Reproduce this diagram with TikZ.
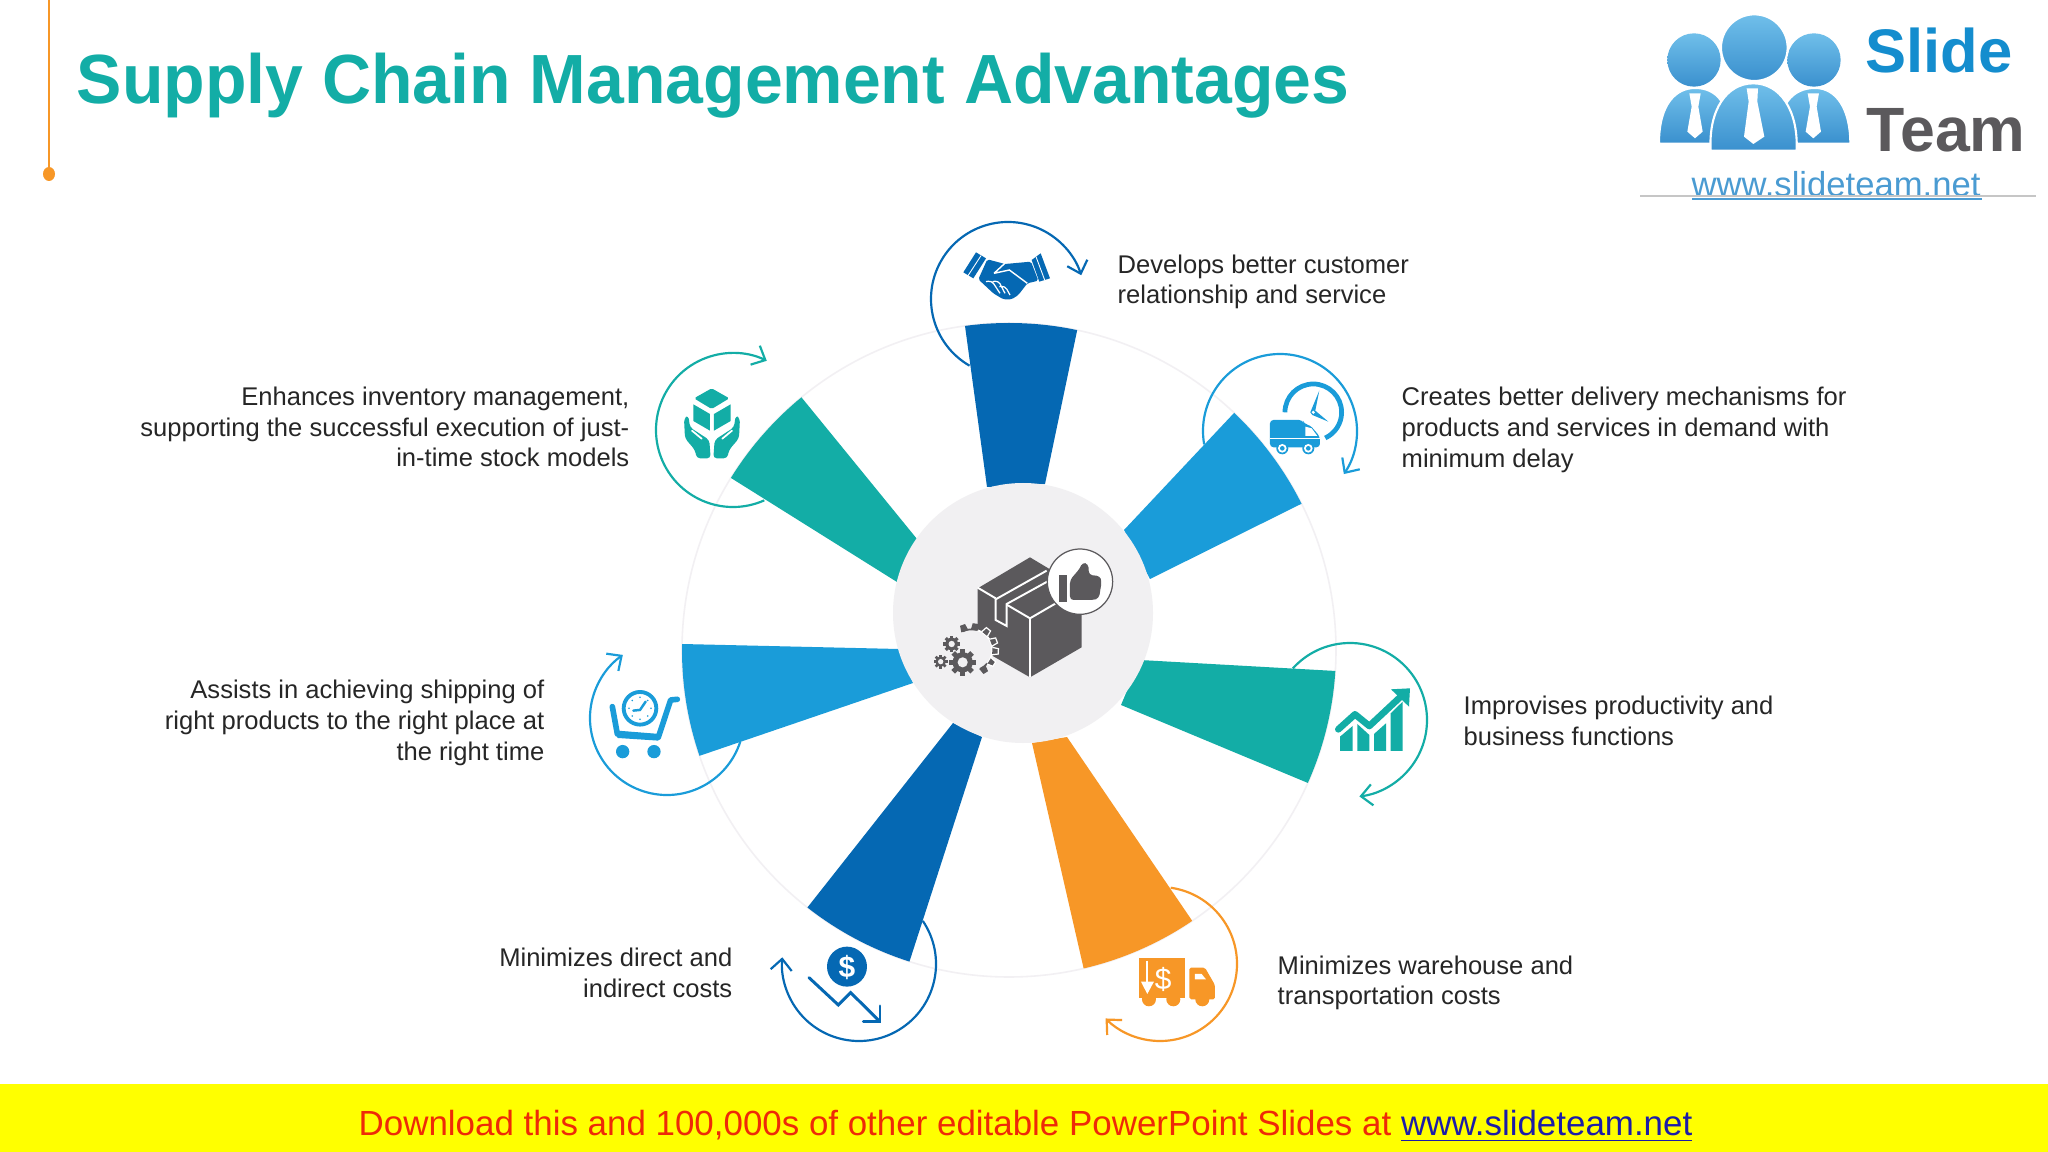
\documentclass[tikz,border=0pt]{standalone}
\usepackage{fontspec}
\setmainfont{Liberation Sans}
\newfontfamily\TitleFont[FakeStretch=0.976]{Liberation Sans}
\usepackage{xcolor}
\usetikzlibrary{calc}
\usetikzlibrary{arrows.meta}
\definecolor{DarkBlue}{HTML}{0568B3}
\definecolor{SkyBlue}{HTML}{1A9CD9}
\definecolor{Teal}{HTML}{13ADA6}
\definecolor{Amber}{HTML}{F79727}
\definecolor{HubGray}{HTML}{F1F0F2}
\definecolor{RingGray}{HTML}{F2F0F3}
\definecolor{BoxGray}{HTML}{5B595C}
\definecolor{BodyText}{HTML}{262626}
\definecolor{BarYellow}{RGB}{255,255,0}
\definecolor{BarRed}{HTML}{EE2A08}
\definecolor{BarLink}{HTML}{1C1CA8}
\definecolor{LogoTop}{HTML}{70BFEA}
\definecolor{LogoBot}{HTML}{3A90CE}
\definecolor{LogoLink}{HTML}{4A9BD2}
\newcommand{\Blade}[5]{\fill[#1] (#2) -- ($(#2)!1.3!(#3)$) -- ($(#5)!1.3!(#4)$) -- (#5) -- cycle;}
\newcommand{\Loop}[5]{\draw[#1,line width=0.62pt,-{Straight Barb[length=3.2pt,width=6pt]}] (#2) ++(#3:77) arc[start angle=#3,end angle=#4,radius=77];}
\newcommand{\GearIcon}[4]{%
  \fill[BoxGray] (#1,#2) circle ({#3*.76});
  \foreach \a in {0,45,...,315} {\fill[BoxGray,shift={(#1,#2)},rotate=\a] ({-.19*#3},0) rectangle ({.19*#3},#3);}
  \fill[#4] (#1,#2) circle ({#3*.38});}
\begin{document}
\begin{tikzpicture}[x=0.01cm,y=0.01cm,yscale=-1]
  \tikzset{BenefitL/.style={anchor=west,align=left,inner sep=0pt,text=BodyText,font=\fontsize{7.27}{8.73}\selectfont}};
  \tikzset{BenefitR/.style={anchor=east,align=right,inner sep=0pt,text=BodyText,font=\fontsize{7.27}{8.73}\selectfont}};
  \useasboundingbox (0,0) rectangle (2048,1152);
  \fill[white] (0,0) rectangle (2048,1152);

  \draw[Amber,line width=0.45pt] (49,0) -- (49,170);
  \fill[Amber] (49,174) ellipse (6 and 7);
  \node[anchor=base west,inner sep=0pt,text=Teal,font=\fontsize{19.8}{24}\selectfont\TitleFont\bfseries] (title) at (76,104) {Supply Chain Management Advantages};

  \draw[RingGray,line width=0.45pt] (1009,650) circle (327);
  \Loop{DarkBlue}{1008,299}{120}{342}{}
  \Loop{SkyBlue}{1280,431}{170}{394}{}
  \Loop{Teal}{733,430}{66}{296}{}
  \Loop{SkyBlue}{667,718}{18}{235}{}
  \Loop{DarkBlue}{859,964}{-34}{185}{}
  \Loop{Amber}{1160,964}{-82}{135}{}
  \Loop{Teal}{1350,720}{-138}{83}{}

  \begin{scope}
    \clip (1009,650) circle (327);
    \Blade{DarkBlue}{987,487}{965,326}{1077,331}{1045,484}
    \Blade{SkyBlue}{1124,530}{1234,413}{1301,504}{1150,579}
    \Blade{Teal}{1140,660}{1336,671}{1308,783}{1121,705}
    \Blade{Amber}{1067,737}{1193,922}{1084,970}{1032,743}
    \Blade{DarkBlue}{982,737}{909,963}{807,908}{953,723}
    \Blade{SkyBlue}{913,683}{699,756}{682,644}{899,649}
    \Blade{Teal}{897,582}{731,478}{802,398}{917,539}
  \end{scope}
  \fill[HubGray] (1023,613) circle (130);

  \begin{scope}[shift={(925,540)},scale=0.3333]
    \fill[BoxGray] (315,52) -- (470,145) -- (470,322) -- (315,412) -- (158,322) -- (158,145) -- cycle;
    \draw[white,line width=0.55pt] (158,143) -- (212,175) (245,194) -- (315,235) -- (470,145) (315,235) -- (315,412);
    \draw[white,line width=0.55pt] (365,92) -- (212,178) -- (212,240) -- (245,258) -- (245,192) -- (372,122);
    \fill[HubGray] (140,330) circle (62);
    \draw[BoxGray,line width=0.5pt] (140,330) ++(245:62) arc[start angle=245,end angle=285,radius=62];
    \draw[white,line width=0.5pt] (140,330) ++(285:62) arc[start angle=285,end angle=400,radius=62];
    \draw[BoxGray,line width=0.5pt] (140,330) ++(400:62) arc[start angle=400,end angle=425,radius=62];
    \foreach \a in {250,278,58} {\fill[BoxGray,shift={(140,330)},rotate=\a] (60,-11) -- (80,-8) -- (80,8) -- (60,11) -- cycle;}
    \foreach \a in {309,339,3,32} {\filldraw[fill=BoxGray,draw=white,line width=0.35pt,shift={(140,330)},rotate=\a] (62,-11) -- (80,-8) -- (80,8) -- (62,11);}
    \GearIcon{113}{367}{40}{HubGray}
    \GearIcon{80}{312}{25}{HubGray}
    \GearIcon{47}{365}{21}{HubGray}
    \filldraw[fill=white,draw=BoxGray,line width=0.35pt] (465,125) circle (98);
    \fill[BoxGray] (403,105) rectangle (425,187);
    \fill[BoxGray,rounded corners=1pt] (435,120) -- (465,85) -- (472,67) -- (490,72) -- (492,105) -- (525,108) -- (530,125) -- (522,175) -- (505,180) -- (435,180) -- cycle;
  \end{scope}

  \begin{scope}[shift={(950,240)},scale=0.3333]
    \fill[DarkBlue] (78,37) -- (108,55) -- (70,115) -- (40,97) -- cycle;
    \fill[DarkBlue] (272,40) -- (300,115) -- (268,125) -- (245,60) -- cycle;
    \fill[DarkBlue,rounded corners=0.5pt] (112,58) -- (165,72) -- (243,65) -- (265,122) -- (232,130) -- (205,165) -- (185,178) -- (160,178) -- (130,160) -- (85,118) -- cycle;
    \draw[white,line width=0.25pt] (93,47) -- (54,107) (258,50) -- (284,120);
    \draw[white,line width=0.4pt] (132,100) -- (170,65) (132,100) -- (178,90) -- (232,130);
    \draw[white,line width=0.35pt,rounded corners=1pt] (108,125) -- (125,122) -- (150,160) (128,125) -- (145,122) -- (165,160) (148,140) -- (165,138) -- (180,165);
  \end{scope}

  \begin{scope}[shift={(880,200)},scale=0.3333]
    \draw[SkyBlue,line width=1.35pt] (1300,637) ++(180:85) arc[start angle=180,end angle=425,radius=85];
    \fill[SkyBlue] (1318,572) -- (1306,632) -- (1345,665) -- (1297,645) -- (1291,637) -- cycle;
    \fill[white] (1300,637) circle (5);
    \fill[SkyBlue,rounded corners=1pt] (1170,660) -- (1268,660) -- (1272,672) -- (1290,675) -- (1320,710) -- (1320,742) -- (1170,742) -- cycle;
    \fill[white] (1276,680) -- (1295,685) -- (1312,708) -- (1276,708) -- cycle;
    \draw[white,line width=0.35pt] (1170,716) -- (1320,716);
    \foreach \wx in {1207,1285} {
      \fill[SkyBlue] (\wx,745) circle (18);
      \fill[white] (\wx,745) circle (13);
      \fill[SkyBlue] (\wx,745) circle (7);
    }
  \end{scope}

  \begin{scope}[shift={(600,340)},scale=0.3333]
    \fill[Teal,rounded corners=0.5pt] (335,145) -- (388,175) -- (335,207) -- (282,175) -- cycle;
    \fill[Teal] (280,193) -- (330,222) -- (330,272) -- (280,243) -- cycle;
    \fill[Teal] (342,222) -- (392,193) -- (392,243) -- (342,272) -- cycle;
    \fill[Teal,rounded corners=1pt] (252,235) -- (265,226) -- (270,262) -- (328,300) -- (332,355) -- (290,355) -- (285,330) -- (255,295) -- cycle;
    \fill[Teal,rounded corners=1pt] (420,235) -- (407,226) -- (402,262) -- (344,300) -- (340,355) -- (382,355) -- (387,330) -- (417,295) -- cycle;
    \draw[white,line width=0.5pt,line cap=round] (276,272) -- (305,296) (396,272) -- (367,296);
  \end{scope}

  \begin{scope}[shift={(600,340)},scale=0.3333]
    \draw[SkyBlue,line width=1.6pt,line join=round,line cap=round] (37,1100) -- (52,1182) -- (175,1192) -- (212,1080) -- (232,1078);
    \fill[SkyBlue] (52,1172) -- (178,1182) -- (175,1202) -- (52,1194) -- cycle;
    \fill[white] (120,1105) circle (60);
    \draw[SkyBlue,line width=1.1pt] (120,1105) circle (49);
    \foreach \a in {0,45,...,315} {\fill[SkyBlue] (120,1105) ++(\a:33) circle (2.6);}
    \draw[SkyBlue,line width=0.7pt,line cap=round] (137,1085) -- (120,1110) -- (100,1112);
    \fill[SkyBlue] (68,1235) circle (20);
    \fill[SkyBlue] (162,1235) circle (20);
  \end{scope}

  \begin{scope}[shift={(750,700)},scale=0.3333]
    \fill[DarkBlue] (291,800) circle (60);
    \node[inner sep=0pt,text=white,font=\fontsize{8.5}{10}\selectfont\bfseries] (usd) at (291,802) {\$};
    \draw[DarkBlue,line width=0.85pt,line cap=round,line join=miter] (177,833) -- (265,915) -- (302,878) -- (385,960);
    \draw[DarkBlue,line width=0.85pt,line cap=round] (390,918) -- (390,965) -- (340,965);
  \end{scope}

  \begin{scope}[shift={(750,700)},scale=0.3333]
    \fill[Amber] (1167,775) rectangle (1305,895);
    \foreach \wx in {1197,1270,1357} {\fill[Amber] (\wx,898) circle (21);}
    \fill[Amber,rounded corners=0.5pt] (1318,803) -- (1365,803) -- (1395,855) -- (1395,898) -- (1318,898) -- cycle;
    \fill[white] (1335,822) -- (1355,822) -- (1368,838) -- (1335,838) -- cycle;
    \draw[white,line width=0.5pt] (1192,782) -- (1192,850);
    \fill[white] (1173,845) -- (1212,845) -- (1192,882) -- cycle;
    \node[inner sep=0pt,text=white,font=\fontsize{8.5}{10}\selectfont] (usdb) at (1240,838) {\$};
  \end{scope}

  \begin{scope}[shift={(1260,620)},scale=0.3333]
    \fill[Teal] (240,350) -- (278,318) -- (278,393) -- (240,393) -- cycle;
    \fill[Teal] (292,312) -- (328,345) -- (328,393) -- (292,393) -- cycle;
    \fill[Teal] (342,342) -- (378,310) -- (378,393) -- (342,393) -- cycle;
    \fill[Teal] (392,280) -- (428,245) -- (428,393) -- (392,393) -- cycle;
    \draw[Teal,line width=1.9pt,line cap=round,line join=round] (235,328) -- (285,283) -- (328,318) -- (420,232);
    \fill[Teal] (393,208) -- (450,205) -- (447,260) -- cycle;
  \end{scope}

  \node[BenefitL] (a) at (1117,282) {Develops better customer\\relationship and service};
  \node[BenefitL] (b) at (1401,430) {Creates better delivery mechanisms for\\products and services in demand with\\minimum delay};
  \node[BenefitL] (c) at (1463,721) {Improvises productivity and\\business functions};
  \node[BenefitL] (d) at (1277,983) {Minimizes warehouse and\\transportation costs};
  \node[BenefitR] (e) at (733,973) {Minimizes direct and\\indirect costs};
  \node[BenefitR] (f) at (545,723) {Assists in achieving shipping of\\right products to the right place at\\the right time};
  \node[BenefitR] (g) at (630,427) {Enhances inventory management,\\supporting the successful execution of just-\\in-time stock models};

  \begin{scope}[shift={(1620,0)},scale=0.3333]
    \shade[top color=LogoTop,bottom color=LogoBot] (222,180) circle (80);
    \shade[top color=LogoTop,bottom color=LogoBot] (582,180) circle (80);
    \shade[top color=LogoTop,bottom color=LogoBot,draw=white,line width=0.4pt] (118,430) .. controls (118,310) and (170,265) .. (225,265) .. controls (290,265) and (330,310) .. (335,430) -- cycle;
    \shade[top color=LogoTop,bottom color=LogoBot,draw=white,line width=0.4pt] (470,430) .. controls (475,310) and (520,265) .. (585,265) .. controls (650,265) and (690,330) .. (690,430) -- cycle;
    \shade[top color=LogoTop,bottom color=LogoBot,draw=white,line width=0.6pt] (403,143) circle (100);
    \shade[top color=LogoTop,bottom color=LogoBot,draw=white,line width=0.6pt] (272,452) .. controls (265,330) and (320,250) .. (400,250) .. controls (480,250) and (535,330) .. (530,452) -- cycle;
    \foreach \tx in {225,580} {\fill[white,shift={(\tx,0)}] (-17,280) -- (17,280) -- (10,320) -- (23,395) -- (0,415) -- (-23,395) -- (-10,320) -- cycle;}
    \fill[white] (380,265) -- (414,265) -- (412,305) -- (433,410) -- (400,432) -- (372,410) -- (386,305) -- cycle;
  \end{scope}
  \node[anchor=base west,inner sep=0pt,text=SkyBlue!70!DarkBlue,font=\fontsize{17.5}{20}\selectfont\bfseries] (slide) at (1865,73) {Slide};
  \node[anchor=base west,inner sep=0pt,text=BoxGray,font=\fontsize{17.8}{20}\selectfont\bfseries] (team) at (1866,152) {Team};
  \node[anchor=base west,inner sep=0pt,text=LogoLink,font=\fontsize{9.85}{12}\selectfont] (site) at (1691,197) {www.slideteam.net};
  \draw[gray!45,line width=0.3pt] (1640,196) -- (2036,196);
  \draw[LogoLink,line width=0.5pt] (1692,199) -- (1982,199);

  \fill[BarYellow] (0,1084) rectangle (2048,1152);
  \node[anchor=base west,inner sep=0pt,font=\fontsize{9.93}{12}\selectfont] (promo) at (358,1135) {\textcolor{BarRed}{Download this and 100,000s of other editable PowerPoint Slides at }\textcolor{BarLink}{\underline{www.slideteam.net}}};
\end{tikzpicture}
\end{document}
